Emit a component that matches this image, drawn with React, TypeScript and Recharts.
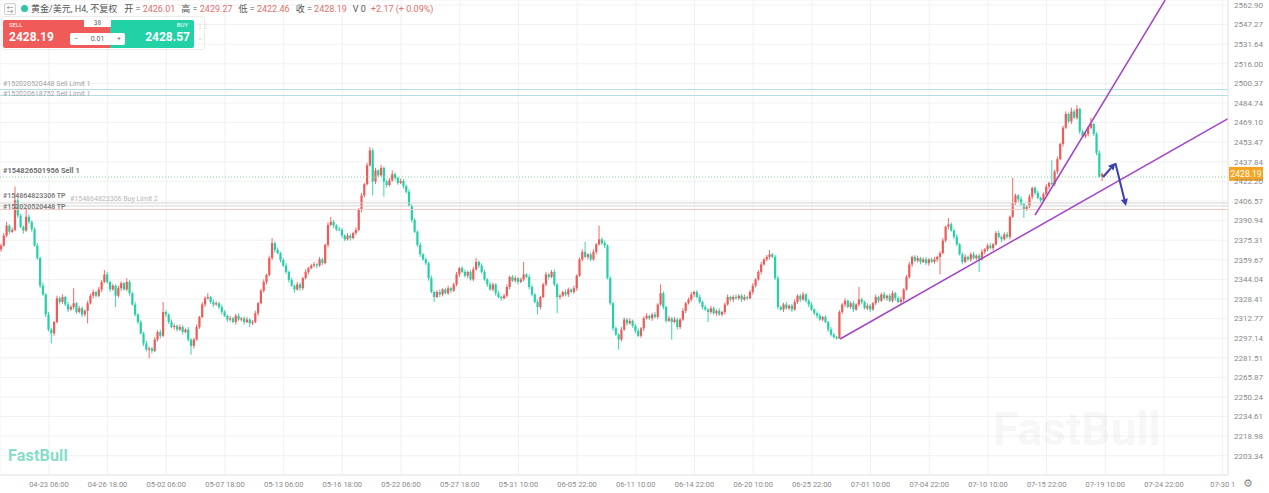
import React from 'react';
import { ComposedChart, Bar, XAxis, YAxis, CartesianGrid, ReferenceLine } from 'recharts';

// H4 closes (open = previous close)
const closesApr = [
  2371, 2379, 2387, 2382, 2383.5, 2407, 2395, 2386, 2383, 2394,
  2390, 2384, 2371, 2361, 2339, 2332, 2316, 2304, 2301, 2310,
  2329, 2326, 2330, 2324, 2320, 2322, 2325, 2318, 2321, 2316,
  2319, 2325, 2331, 2334, 2331, 2336, 2342, 2348, 2342, 2336,
  2339, 2331, 2337, 2341, 2336, 2342, 2333, 2324, 2316, 2310,
  2301, 2293, 2288, 2289, 2287, 2296, 2302, 2299, 2318, 2316,
];
const closesMay = [
  2310, 2306, 2307, 2304, 2306, 2302, 2304, 2296, 2291, 2296,
  2306, 2314, 2324, 2329, 2330, 2326, 2324, 2325, 2322, 2318,
  2315, 2312, 2313, 2310, 2315, 2312, 2313, 2310, 2312, 2309,
  2310, 2317, 2325, 2335, 2342, 2347.5, 2361, 2373, 2367.5, 2365,
  2359.5, 2355, 2350, 2343.6, 2339, 2336, 2340, 2337, 2345, 2350,
  2353, 2355, 2356, 2355, 2360, 2357, 2371.5, 2387.5, 2390, 2387,
  2384, 2383.5, 2379, 2376, 2379, 2377, 2381, 2383.5, 2399.4, 2411,
  2420, 2435, 2447, 2422, 2431, 2427, 2433, 2422, 2419.3, 2423,
  2428, 2425, 2421, 2422.5, 2418.5, 2414, 2403, 2391.4, 2382, 2371.5,
  2364, 2360, 2357, 2345, 2334, 2330, 2334, 2332, 2336, 2333,
  2337, 2335, 2340, 2348, 2353, 2350, 2347, 2350, 2344, 2352,
  2358, 2355, 2350, 2344, 2340, 2336, 2340, 2333, 2330, 2329,
  2331, 2338, 2346, 2343, 2345, 2342, 2344, 2348, 2346, 2338,
  2332, 2326, 2322, 2330, 2340, 2348, 2346, 2350, 2340, 2330,
];
const closesJun = [
  2331, 2334, 2332, 2336, 2334, 2337, 2347, 2360, 2366, 2362,
  2364, 2360, 2366, 2372, 2376, 2373, 2371, 2345, 2325, 2305,
  2300, 2296, 2304, 2312, 2309, 2311, 2307, 2303, 2299, 2305,
  2313, 2315, 2313, 2316, 2314, 2324, 2333, 2322, 2311, 2313,
  2310, 2312, 2306, 2312, 2319, 2325, 2328, 2332, 2334, 2330,
  2326, 2322, 2320, 2318, 2321, 2317, 2319, 2316, 2318, 2324,
  2330, 2328, 2330, 2329, 2331, 2328, 2330, 2329, 2334, 2339,
  2344, 2350, 2356, 2360, 2362, 2364, 2362, 2345, 2322, 2320,
  2324, 2321, 2323, 2320, 2326, 2331, 2328, 2332, 2327, 2324,
  2320, 2317, 2315, 2312, 2314, 2310, 2304, 2300, 2298, 2297,
];
const closesJul = [
  2318, 2324, 2327, 2322, 2325, 2320, 2324, 2328, 2326, 2321,
  2323, 2320, 2325, 2330, 2327, 2332, 2329, 2331, 2327, 2333,
  2329, 2326, 2328, 2336, 2346, 2356, 2362, 2359, 2361, 2358,
  2360, 2357, 2360, 2358, 2360, 2362, 2365, 2375, 2386, 2388,
  2383, 2378, 2372, 2364, 2358, 2362, 2360, 2364, 2361, 2363,
  2360, 2366, 2368, 2371, 2369, 2372, 2381, 2378, 2376, 2380,
  2378, 2394, 2405, 2411, 2408, 2404, 2400, 2402, 2410, 2417,
  2413, 2409, 2407, 2412, 2418, 2421, 2420, 2430, 2440, 2452,
  2465, 2476, 2470, 2478, 2473, 2480, 2462, 2458, 2460, 2465,
  2468, 2460, 2445, 2426.01, 2428.19,
];
const firstOpen = 2368;

// wick length above / below the body, in dollars
const upperWicks = [
  1.5, 2, 3, 1, 2, 11, 2, 1.5, 1, 7, 2, 1, 1.5, 2, 1, 2.5, 1, 2, 1.5, 1,
  2, 1.5, 2, 1, 2, 1.5, 12, 1, 2, 1.5, 1, 2, 1.5, 2, 1, 2, 1.5, 3.5, 2, 1,
  1.5, 1, 2, 1.5, 1, 3, 1.5, 1, 2, 1, 1.5, 1, 2, 1.5, 1, 2, 1.5, 2, 8, 1.5,
  1, 2, 1.5, 1, 2, 1.5, 1, 2, 1, 1.5, 2, 1, 2, 1.5, 3, 1, 2, 1.5, 1, 2,
  1.5, 1, 2, 1, 1.5, 2, 1, 1.5, 2, 1, 1.5, 2, 1, 1.5, 2, 1, 2, 4, 1.5, 2,
  1, 1.5, 2, 1, 1.5, 1, 2, 1.5, 1, 2, 1, 1.5, 2, 1, 2, 1.5, 1, 2, 4, 1.5,
  1, 2, 1.5, 1, 2, 1.5, 1, 2, 1.5, 2, 1, 2, 2.5, 1.5, 2, 1, 2.5, 1, 1.5, 2,
  3, 1.5, 1, 2, 1.5, 1, 2, 1, 1.5, 1, 2, 1, 1.5, 1, 2, 1, 1.5, 2, 1, 1.5,
  2, 1, 1.5, 2, 1, 1.5, 2, 1, 1.5, 2, 3, 1, 2, 1.5, 1, 2, 1.5, 1, 2, 1,
  1.5, 2, 1, 1.5, 2, 1, 1.5, 10, 1, 2, 1.5, 1, 2, 1, 1.5, 2, 1, 1.5, 2, 1,
  1.5, 1, 2, 1.5, 1, 2, 1, 1.5, 2, 8, 1, 1.5, 2, 1, 11, 1.5, 2, 1, 1.5, 1,
  1.5, 1, 2, 1.5, 1, 2, 1, 1.5, 2, 1, 1.5, 2, 1, 1.5, 2, 1, 7, 1.5, 1, 2,
  1, 2, 1.5, 1, 2, 1, 1.5, 2, 1, 1.5, 2, 1, 1.5, 1, 2, 1.5, 1, 2, 1, 1.5,
  2, 1, 1.5, 2, 1, 1.5, 2, 1, 1.5, 2, 1, 1.5, 2, 1, 1.5, 3.5, 1, 1.5, 2, 1,
  1.5, 2, 1, 1.5, 2, 1, 1.5, 2, 1, 1.5, 2, 1, 1.5, 2, 1, 1.5, 1, 2, 1.5, 1,
  1.5, 1, 2, 1, 1.5, 2, 1, 10, 1.5, 1, 2, 1.5, 1, 2, 1, 1.5, 2, 1, 1.5, 2,
  1, 1.5, 2, 1, 1.5, 2, 1, 1.5, 2, 1, 1.5, 2, 1, 1.5, 2, 1, 1.5, 2, 1, 5,
  1.5, 1, 2, 1, 1.5, 2, 1, 1.5, 2, 1, 1.5, 2, 1, 1.5, 2, 1, 1.5, 2, 1, 1.5,
  2, 1, 20, 1.5, 1, 2, 1, 1.5, 2, 1, 1.5, 2, 1, 1.5, 2, 1, 18, 1.5, 2, 1,
  1.5, 2, 1, 3, 1.5, 3, 1, 1.5, 2, 1, 5, 1, 1.5, 2, 1.08,
];
const lowerWicks = [
  2, 1, 1.5, 2, 1, 1, 2, 1, 2.5, 1, 1.5, 2, 1, 1.5, 2, 1, 2, 1.5, 8, 2,
  1, 2, 1.5, 1, 2, 1, 2, 1.5, 1, 2, 1.5, 10, 1, 2, 1.5, 1, 2, 1, 1.5, 2,
  1, 9, 1.5, 2, 1, 1.5, 2, 1, 1.5, 2, 1, 2, 1.5, 7, 2, 1, 1.5, 2, 1, 2,
  1.5, 1, 2, 1.5, 1, 2, 1, 1.5, 7, 2, 1, 1.5, 1, 2, 1, 1.5, 2, 1, 1.5, 2,
  1, 2, 1.5, 1, 2, 1, 1.5, 2, 1, 3, 1.5, 1, 2, 1, 1.5, 2, 1, 1.5, 2, 1,
  2, 1, 1.5, 2, 1, 2.5, 1, 2, 1.5, 1, 2, 1, 1.5, 2, 1, 1.5, 1, 2, 1, 2,
  1.5, 1, 2, 1.5, 1, 2, 1, 1.5, 1, 2, 1.5, 1, 1, 11, 2, 1.5, 1, 12, 2, 1,
  1, 2, 1.5, 1, 2, 1.5, 1, 2, 1, 1.5, 2, 1, 1.5, 2, 1, 4, 1, 2, 1.5, 1,
  1.5, 2, 1, 1.5, 2, 1, 1.5, 2, 1, 1.5, 1, 2, 1.5, 1, 2, 1, 1.5, 2, 1, 2,
  1, 1.5, 2, 1, 1.5, 2, 1, 1.5, 1, 2, 1.5, 1, 6, 2, 1, 1.5, 2, 1, 1.5, 13,
  2, 1, 1.5, 2, 1, 1.5, 2, 1, 1.5, 1, 2, 1.5, 1, 2, 1, 1.5, 2, 1, 1.5, 2,
  1, 8, 1.5, 1, 2, 1, 1.5, 2, 1, 1.5, 2, 1, 1.5, 2, 1, 1.5, 1, 2, 1.5, 1,
  14, 1, 2, 1.5, 1, 2, 1, 1.5, 2, 1, 1.5, 2, 1, 8, 1.5, 1, 2, 1, 1.5, 2,
  1, 1.5, 2, 1, 1.5, 2, 1, 1.5, 1, 2, 1.5, 1, 2, 1, 1.5, 2, 1, 1.5, 2, 1,
  2, 1, 1.5, 2, 1, 1.5, 2, 1, 1.5, 2, 1, 1.5, 2, 1, 1.5, 1, 2, 1.5, 1, 1,
  0.5, 1.5, 2, 1, 1.5, 2, 1, 1.5, 2, 1, 1.5, 2, 1, 1.5, 2, 1, 1.5, 2, 1, 1.5,
  2, 1, 1.5, 2, 1, 1.5, 2, 1, 1.5, 2, 1, 1.5, 2, 1, 1.5, 2, 14, 1, 1.5, 2,
  1, 2, 1.5, 1, 2, 1, 1.5, 2, 1, 1.5, 10, 1, 2, 1.5, 1, 2, 1, 1.5, 2, 1,
  1.5, 2, 1, 1.5, 2, 1, 7, 1.5, 1, 2, 1.5, 1, 2, 1, 1.5, 2, 1, 1.5, 2, 1,
  2, 1, 1.5, 2, 1, 1.5, 2, 1, 1.5, 2, 1, 1.5, 2, 1, 3.55,
];

const priceTicks = [
  2562.9, 2547.27, 2531.64, 2516.0, 2500.37, 2484.74, 2469.1, 2453.47, 2437.84, 2422.2,
  2406.57, 2390.94, 2375.31, 2359.67, 2344.04, 2328.41, 2312.77, 2297.14, 2281.51,
  2265.87, 2250.24, 2234.61, 2218.98, 2203.34,
];
const timeLabels = [
  '04-23 06:00', '04-26 18:00', '05-02 06:00', '05-07 18:00', '05-13 06:00', '05-16 18:00',
  '05-22 06:00', '05-27 18:00', '05-31 10:00', '06-05 22:00', '06-11 10:00', '06-14 22:00',
  '06-20 10:00', '06-25 22:00', '07-01 10:00', '07-04 22:00', '07-10 10:00', '07-15 22:00',
  '07-19 10:00', '07-24 22:00', '07-30 1',
];
const timeLabelBars = [17, 38, 59, 80, 101, 122, 143, 164, 185, 206, 227, 248, 269, 290, 311, 332, 353, 374, 395, 416, 437];

// pending orders drawn on the chart
const orderLevels = [2495.5, 2490.7, 2425.7, 2404.96, 2402.6, 2399.8];
const orderNames = [
  '#152020520448 Sell Limit 1',
  '#152020618752 Sell Limit 1',
  '#154826501956 Sell 1',
  '#154864823306 TP',
  '#152020520448 TP',
  '#154864823306 Buy Limit 2',
];

// drawings: [barIndex, price]
const trendLow = [[300.1, 2296.5], [438.9, 2472.2]];
const trendHigh = [[369.9, 2395.4], [416.4, 2566.8]];
const arrowUp = [[394.2, 2425.7], [398.6, 2436.9]];
const arrowDown = [[398.6, 2436.9], [402.4, 2402.6]];

const headerNames = ['开', '高', '低', '收'];
const headerValues = ['2426.01', '2429.27', '2422.46', '2428.19'];

const UP = '#ee5b58';
const DOWN = '#25d0a7';
const PURPLE = '#a244c8';
const ARROW = '#3a3fb3';

const closes = [...closesApr, ...closesMay, ...closesJun, ...closesJul];
const data = closes.map((c, i) => {
  const o = i === 0 ? firstOpen : closes[i - 1];
  const high = Math.max(o, c) + upperWicks[i];
  const low = Math.min(o, c) - lowerWicks[i];
  return { i, open: o, close: c, high, low, range: [low, high] };
});
const lastClose = closes[closes.length - 1];

const Candle = (props: any) => {
  const { x, y, width, height, payload } = props;
  if (x == null || !payload) return null;
  const top = Math.min(y, y + height);
  const h = Math.abs(height);
  const { open, close, high, low } = payload;
  const k = h / (high - low || 1);
  const cx = x + width / 2;
  const bodyTop = top + (high - Math.max(open, close)) * k;
  const bodyH = Math.max(Math.abs(open - close) * k, 1);
  const color = close >= open ? UP : DOWN;
  return (
    <g>
      <line x1={cx} x2={cx} y1={top} y2={top + h} stroke={color} strokeWidth={0.9} />
      <rect x={cx - 1.1} y={bodyTop} width={2.2} height={bodyH} fill={color} />
    </g>
  );
};

const ArrowLine = (p: any) => {
  const { x1, y1, x2, y2 } = p;
  if (x1 == null) return null;
  const a = Math.atan2(y2 - y1, x2 - x1);
  const L = 7;
  const W = 3.6;
  const bx = x2 - L * Math.cos(a);
  const by = y2 - L * Math.sin(a);
  const pts = `${x2},${y2} ${bx - W * Math.sin(a)},${by + W * Math.cos(a)} ${bx + W * Math.sin(a)},${by - W * Math.cos(a)}`;
  return (
    <g>
      <line x1={x1} y1={y1} x2={bx} y2={by} stroke={ARROW} strokeWidth={2} />
      <polygon points={pts} fill={ARROW} />
    </g>
  );
};

const PriceTag = (props: any) => {
  const vb = props.viewBox;
  if (!vb) return null;
  const left = vb.x + vb.width + 1;
  return (
    <g>
      <rect x={left} y={vb.y - 7} width={34} height={14} fill="#f5a524" />
      <text x={left + 17} y={vb.y + 3} textAnchor="middle" fontSize={8.5} fill="#fff">
        {lastClose.toFixed(2)}
      </text>
    </g>
  );
};

// label placement relative to each order line: dx from plot left, dy above the line
const orderStyle = [
  { stroke: '#b4dde6', dash: undefined, fill: '#a3a3a3', weight: 400, dx: 3, dy: 3.5, size: 7 },
  { stroke: '#b4dde6', dash: undefined, fill: '#a3a3a3', weight: 400, dx: 3, dy: 0, size: 7 },
  { stroke: '#8fd3a0', dash: '1 2', fill: '#6f6f6f', weight: 700, dx: 3, dy: 4, size: 7.5 },
  { stroke: '#d3d3d3', dash: undefined, fill: '#7a7a7a', weight: 600, dx: 3, dy: 5, size: 7 },
  { stroke: '#d3d3d3', dash: undefined, fill: '#7a7a7a', weight: 600, dx: 3, dy: -3, size: 7 },
  { stroke: '#f2c7c2', dash: undefined, fill: '#b8b8b8', weight: 400, dx: 70, dy: 8, size: 7 },
];

const OrderLabel = (k: number) => (props: any) => {
  const vb = props.viewBox;
  if (!vb) return null;
  const s = orderStyle[k];
  return (
    <text x={vb.x + s.dx} y={vb.y - s.dy} fontSize={s.size} fontWeight={s.weight} fill={s.fill}>
      {orderNames[k]}
    </text>
  );
};

const labelMap: Record<number, string> = {};
timeLabelBars.forEach((b, k) => {
  labelMap[b] = timeLabels[k];
});

const font = "Roboto, 'Noto Sans CJK SC', 'Noto Sans', sans-serif";

export default function App() {
  return (
    <div style={{ position: 'relative', width: 1269, height: 493, background: '#fff', overflow: 'hidden', fontFamily: font }}>
      <style>{'body{margin:0}'}</style>
      <ComposedChart width={1269} height={493} data={data} margin={{ top: 0, right: 0, bottom: 0, left: 0 }}>
        <CartesianGrid stroke="#f1f1f1" />
        <XAxis
          type="number"
          dataKey="i"
          domain={[-0.5, 438.9]}
          allowDataOverflow
          ticks={timeLabelBars}
          interval={0}
          tickFormatter={(v: number) => labelMap[v] ?? ''}
          height={18}
          tickLine={false}
          tickSize={0}
          tickMargin={7}
          axisLine={{ stroke: '#e6e6e6' }}
          tick={{ fontSize: 7.5, fill: '#8a8a8a' }}
        />
        <YAxis
          type="number"
          orientation="right"
          width={41}
          domain={[2188.0, 2566.89]}
          allowDataOverflow
          ticks={priceTicks}
          interval={0}
          tickFormatter={(v: number) => v.toFixed(2)}
          tickLine={false}
          tickSize={0}
          tickMargin={6}
          axisLine={{ stroke: '#e6e6e6' }}
          tick={{ fontSize: 8, fill: '#8a8a8a' }}
        />
        {orderLevels.map((lv, k) => (
          <ReferenceLine
            key={`o${k}`}
            y={lv}
            stroke={orderStyle[k].stroke}
            strokeDasharray={orderStyle[k].dash}
            strokeWidth={1}
            label={OrderLabel(k)}
          />
        ))}
        <Bar dataKey="range" barSize={2} shape={<Candle />} isAnimationActive={false} />
        <ReferenceLine
          segment={[{ x: trendLow[0][0], y: trendLow[0][1] }, { x: trendLow[1][0], y: trendLow[1][1] }]}
          stroke={PURPLE}
          strokeWidth={1.5}
          ifOverflow="visible"
        />
        <ReferenceLine
          segment={[{ x: trendHigh[0][0], y: trendHigh[0][1] }, { x: trendHigh[1][0], y: trendHigh[1][1] }]}
          stroke={PURPLE}
          strokeWidth={1.5}
          ifOverflow="visible"
        />
        <ReferenceLine
          segment={[{ x: arrowUp[0][0], y: arrowUp[0][1] }, { x: arrowUp[1][0], y: arrowUp[1][1] }]}
          shape={ArrowLine}
          ifOverflow="visible"
        />
        <ReferenceLine
          segment={[{ x: arrowDown[0][0], y: arrowDown[0][1] }, { x: arrowDown[1][0], y: arrowDown[1][1] }]}
          shape={ArrowLine}
          ifOverflow="visible"
        />
        <ReferenceLine y={lastClose} stroke="none" strokeOpacity={0} label={<PriceTag />} />
      </ComposedChart>

      {/* header line */}
      <div style={{ position: 'absolute', left: 4, top: 2, display: 'flex', alignItems: 'center', fontSize: 9, color: '#555', whiteSpace: 'nowrap' }}>
        <span style={{ width: 10, height: 10, border: '1px solid #cfcfcf', borderRadius: 2, fontSize: 7, display: 'inline-flex', alignItems: 'center', justifyContent: 'center', marginRight: 5, color: '#777' }}>⇆</span>
        <span style={{ width: 7, height: 7, borderRadius: '50%', background: '#2cc7a2', marginRight: 3, display: 'inline-block' }} />
        <span style={{ marginRight: 7 }}>黄金/美元, H4, 不复权</span>
        {headerNames.map((n, k) => (
          <span key={n} style={{ marginRight: 6 }}>
            {n} = <span style={{ color: '#e0706c' }}>{headerValues[k]}</span>
          </span>
        ))}
        <span style={{ marginRight: 5 }}>V 0</span>
        <span style={{ color: '#e0706c' }}>+2.17 (+ 0.09%)</span>
      </div>

      {/* trade widget */}
      <div style={{ position: 'absolute', left: 1, top: 16, width: 204, height: 34, border: '1px solid #ececec', borderRadius: 3, boxSizing: 'border-box' }} />
      <div style={{ position: 'absolute', left: 3, top: 20, width: 191, height: 28, color: '#fff' }}>
        <div style={{ position: 'absolute', left: 0, top: 0, width: 107, height: 28, background: '#f05a58', borderRadius: '2px 0 0 2px' }} />
        <div style={{ position: 'absolute', left: 107, top: 0, width: 84, height: 28, background: '#22d2a6', borderRadius: '0 2px 2px 0' }} />
        <div style={{ position: 'absolute', left: 6, top: 1, fontSize: 6 }}>SELL</div>
        <div style={{ position: 'absolute', left: 6, top: 10, fontSize: 12, fontWeight: 700 }}>2428.19</div>
        <div style={{ position: 'absolute', right: 6, top: 1, fontSize: 6 }}>BUY</div>
        <div style={{ position: 'absolute', right: 4, top: 10, fontSize: 12, fontWeight: 700 }}>2428.57</div>
        <div style={{ position: 'absolute', left: 81, top: 0, width: 27, height: 7, background: '#fff', fontSize: 6.5, color: '#666', textAlign: 'center', lineHeight: '7px' }}>38</div>
        <div style={{ position: 'absolute', left: 67, top: 13, width: 55, height: 12, background: '#fff', borderRadius: 2, fontSize: 7, color: '#666', display: 'flex', alignItems: 'center', justifyContent: 'space-between', padding: '0 4px', boxSizing: 'border-box' }}>
          <span>−</span>
          <span>0.01</span>
          <span>+</span>
        </div>
        <div style={{ position: 'absolute', left: 194, top: 2, fontSize: 6, color: '#c8c8c8' }}>⋮⋮</div>
        <div style={{ position: 'absolute', left: 194, top: 14, fontSize: 7, color: '#c8c8c8' }}>⌄</div>
      </div>

      {/* watermarks */}
      <div style={{ position: 'absolute', left: 8, top: 446, fontSize: 16, fontWeight: 700, color: '#86ddc9', letterSpacing: 0.2 }}>FastBull</div>
      <div style={{ position: 'absolute', left: 993, top: 402, fontSize: 46, fontWeight: 700, color: 'rgba(0,0,0,0.05)' }}>FastBull</div>
      <div style={{ position: 'absolute', left: 1243, top: 477, fontSize: 11, color: '#8a8a8a', fontFamily: 'DejaVu Sans' }}>⚙</div>
    </div>
  );
}
